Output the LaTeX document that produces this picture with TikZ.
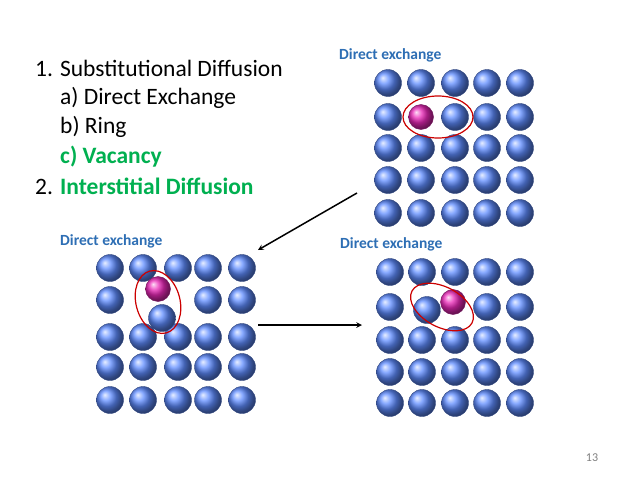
\documentclass[tikz,border=0pt]{standalone}
\usepackage{fontspec}
\setmainfont{Carlito}
\definecolor{grn}{RGB}{0,176,80}
\definecolor{lbl}{RGB}{45,110,180}
\definecolor{bl}{RGB}{95,140,255}
\definecolor{pk}{RGB}{235,40,185}
\begin{document}
\begin{tikzpicture}[x=1pt,y=-1pt,
  atom/.style={circle,minimum size=27pt,inner sep=0pt,shading=ball,ball color=bl,draw=bl!50!black,line width=0.4pt},
  pink/.style={circle,minimum size=25pt,inner sep=0pt,shading=ball,ball color=pk,draw=pk!50!black,line width=0.4pt},
  ring/.style={draw=red!80!black,line width=1.2pt},
  lab/.style={font=\bfseries\fontsize{15.5}{17}\selectfont,text=lbl,anchor=west,inner sep=0pt},
  txt/.style={font=\fontsize{23.5}{26}\selectfont,anchor=west,inner sep=0pt},
  arr/.style={-stealth,line width=1.5pt}]
\useasboundingbox[fill=white] (0,0) rectangle (638,479);
% text
\node[txt] (t1) at (35,68) {1. Substitutional Diffusion};
\node[txt] (t2) at (60,98) {a) Direct Exchange};
\node[txt] (t3) at (60,127) {b) Ring};
\node[txt,text=grn] (t4) at (60,157) {\bfseries c) Vacancy};
\node[txt] (t5) at (35,186) {2. \textcolor{grn}{\bfseries Interstitial Diffusion}};
% top right grid
\node[lab] (l1) at (339,55) {Direct exchange};
\foreach \r/\y in {1/83,2/117,3/148,4/180,5/213}
  \foreach \c/\x in {1/388,2/421,3/455,4/487,5/520}{
    \ifnum\r=2 \ifnum\c=2 \else \node[atom] (a\r\c) at (\x,\y) {};\fi
    \else \node[atom] (a\r\c) at (\x,\y) {};\fi}
\node[pink] (p1) at (421,117) {};
\draw[ring] (438,117) ellipse [x radius=35, y radius=21];
% bottom left grid
\node[lab] (l2) at (60,241) {Direct exchange};
\foreach \r/\y in {1/268,3/337,4/367,5/400}
  \foreach \c/\x in {1/110,2/143,3/178,4/208,5/242}{
    \node[atom] (b\r\c) at (\x,\y) {};}
\node[atom] (b21) at (110,300) {};
\node[atom] (b24) at (208,300) {};
\node[atom] (b25) at (242,300) {};
\node[pink] (p2) at (158,289) {};
\node[atom] (bm) at (162,318) {};
\draw[ring,rotate around={15:(158,302)}] (158,302) ellipse [x radius=22, y radius=32];
% bottom right grid
\node[lab] (l3) at (340,244) {Direct exchange};
\foreach \r/\y in {1/272,3/340,4/372,5/403}
  \foreach \c/\x in {1/390,2/422,3/455,4/487,5/520}{
    \node[atom] (c\r\c) at (\x,\y) {};}
\node[atom] (c21) at (390,307) {};
\node[atom] (c24) at (487,307) {};
\node[atom] (c25) at (520,307) {};
\node[atom] (cm) at (427,310) {};
\node[pink] (p3) at (453,302) {};
\draw[ring,rotate around={-28:(442,307)}] (442,307) ellipse [x radius=34, y radius=20];
% arrows
\coordinate (s1) at (357,193); \coordinate (e1) at (258,250);
\coordinate (s2) at (258,325); \coordinate (e2) at (362,325);
\draw[arr] (s1) -- (e1);
\draw[arr] (s2) -- (e2);
\node[font=\fontsize{12}{13}\selectfont,text=gray] (pg) at (592,458) {13};
\end{tikzpicture}
\end{document}
